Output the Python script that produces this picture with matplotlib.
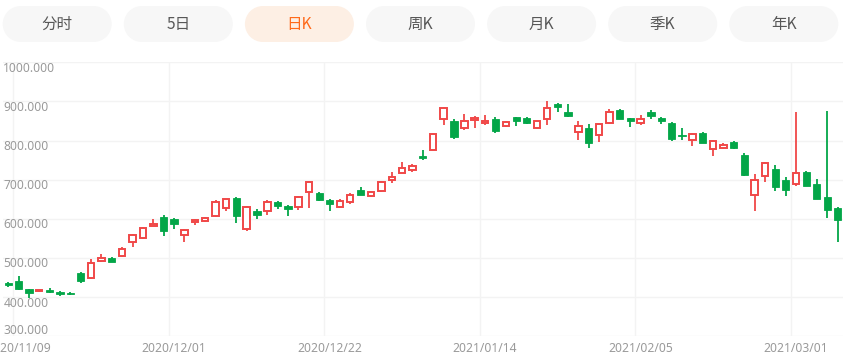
import matplotlib
matplotlib.use("Agg")
import matplotlib.pyplot as plt
from matplotlib.patches import FancyBboxPatch
import numpy as np

# tabs along the top
tabs = ["分时", "5日", "日K", "周K", "月K", "季K", "年K"]
active_tab = 2

# daily candles (open, close, high, low)
opens = [437, 442, 421, 416, 418, 413, 411, 461, 449, 493,
         500, 504, 541, 551, 582, 604, 600, 558, 592, 594,
         607, 627, 654, 574, 619, 621, 644, 633, 630, 668,
         667, 648, 631, 642, 675, 659, 672, 700, 718, 724,
         760, 777, 856, 851, 831, 853, 844, 855, 838, 861,
         858, 833, 856, 894, 873, 821, 832, 815, 845, 879,
         858, 846, 873, 857, 846, 814, 801, 820, 778, 781,
         796, 764, 662, 710, 728, 700, 689, 719, 688, 656,
         629]
closes = [430, 421, 410, 418, 412, 408, 408, 442, 488, 501,
          490, 523, 558, 576, 588, 568, 586, 571, 597, 602,
          643, 651, 607, 630, 611, 643, 634, 624, 657, 695,
          648, 639, 646, 662, 662, 668, 695, 707, 731, 736,
          756, 818, 883, 810, 851, 857, 849, 825, 847, 851,
          845, 850, 883, 885, 864, 837, 793, 842, 874, 855,
          850, 855, 864, 849, 805, 812, 818, 795, 800, 788,
          781, 712, 699, 743, 681, 674, 718, 685, 651, 622,
          598]
highs = [440, 453, 422, 419, 423, 415, 412, 463, 497, 510,
         502, 527, 562, 579, 600, 609, 603, 574, 600, 604,
         649, 652, 655, 632, 626, 647, 646, 635, 659, 696,
         668, 650, 651, 666, 681, 671, 696, 719, 745, 741,
         776, 819, 886, 855, 869, 863, 865, 861, 851, 861,
         859, 851, 902, 897, 894, 849, 843, 843, 880, 881,
         858, 866, 879, 861, 848, 831, 819, 822, 801, 795,
         799, 769, 714, 745, 737, 706, 873, 722, 701, 875,
         630]
lows = [426, 419, 397, 414, 410, 404, 405, 436, 446, 490,
        489, 502, 528, 548, 581, 556, 574, 542, 585, 592,
        604, 620, 590, 568, 600, 611, 626, 607, 623, 628,
        645, 621, 628, 639, 660, 655, 669, 692, 717, 720,
        750, 776, 839, 805, 828, 833, 841, 820, 834, 838,
        843, 829, 841, 873, 860, 802, 781, 796, 843, 854,
        835, 840, 855, 843, 800, 801, 785, 793, 761, 778,
        778, 710, 621, 693, 671, 659, 685, 684, 650, 602,
        540]

tick_idx = [1, 16, 31, 46, 61, 76]
tick_labels = ["2020/11/09", "2020/12/01", "2020/12/22",
               "2021/01/14", "2021/02/05", "2021/03/01"]
y_ticks = [300, 400, 500, 600, 700, 800, 900, 1000]

up_col = "#f04848"
down_col = "#03a648"
grid_col = "#f3f3f3"
label_col = "#9a9a9a"

W, H = 860, 362
fig = plt.figure(figsize=(W / 100, H / 100), dpi=100)

# background layer in pixel coordinates for the tab pills
bg = fig.add_axes([0, 0, 1, 1])
bg.set_xlim(0, W)
bg.set_ylim(H, 0)
bg.axis("off")
pill_w, pill_h, step, x0, y0 = 109, 36, 121.1, 2.7, 6
for i, name in enumerate(tabs):
    px = x0 + i * step
    on = i == active_tab
    fc = "#fdefe4" if on else "#f7f7f7"
    bg.add_patch(FancyBboxPatch((px + 18, y0), pill_w - 36, pill_h,
                                boxstyle="square,pad=0",
                                facecolor=fc, edgecolor="none"))
    bg.add_patch(plt.Circle((px + 18, y0 + 18), 18, color=fc, lw=0))
    bg.add_patch(plt.Circle((px + pill_w - 18, y0 + 18), 18, color=fc, lw=0))
    bg.text(px + pill_w / 2, y0 + pill_h / 2 + 0.5, name,
            ha="center", va="center", fontsize=11.2,
            family=["Noto Sans CJK SC", "DejaVu Sans"],
            color="#ff6a1a" if on else "#585858")

# candle chart
ax = fig.add_axes([3 / W, 1 - 336.3 / H, 839.7 / W, 274 / H])
ax.patch.set_alpha(0)
n = len(opens)
x = np.arange(n)
o = np.array(opens, float)
c = np.array(closes, float)
hi = np.array(highs, float)
lo = np.array(lows, float)
up = c >= o

for v in y_ticks:
    ax.axhline(v, color=grid_col, lw=1, zorder=0)
for t in tick_idx:
    ax.axvline(t - 0.5, color=grid_col, lw=1, zorder=0)

cols = np.where(up, up_col, down_col)
ax.vlines(x, lo, hi, colors=cols, lw=1.3, zorder=1)
bottom = np.minimum(o, c)
height = np.maximum(np.abs(c - o), 1.5)
ax.bar(x[up], height[up], bottom=bottom[up], width=0.62,
       facecolor="white", edgecolor=up_col, lw=1.4, zorder=2)
ax.bar(x[~up], height[~up], bottom=bottom[~up], width=0.7,
       facecolor=down_col, edgecolor=down_col, lw=0.6, zorder=2)

ax.set_xlim(-0.5, n - 0.5)
ax.set_ylim(300, 1000)
for s in ax.spines.values():
    s.set_visible(False)
ax.set_yticks([])
ax.set_xticks(tick_idx)
ax.set_xticklabels(tick_labels, family="Noto Sans", fontsize=8.7, color=label_col)
ax.tick_params(axis="x", length=0, pad=4)

for v in y_ticks:
    dy = 4.5 if v == 300 else -4.3
    ax.annotate(f"{v:.3f}", xy=(0, v), xycoords=("axes fraction", "data"),
                xytext=(0.3, dy), textcoords="offset points",
                ha="left", va="center", family="Noto Sans",
                fontsize=8.7, color=label_col, zorder=3)

fig.savefig("out.png", dpi=100)
